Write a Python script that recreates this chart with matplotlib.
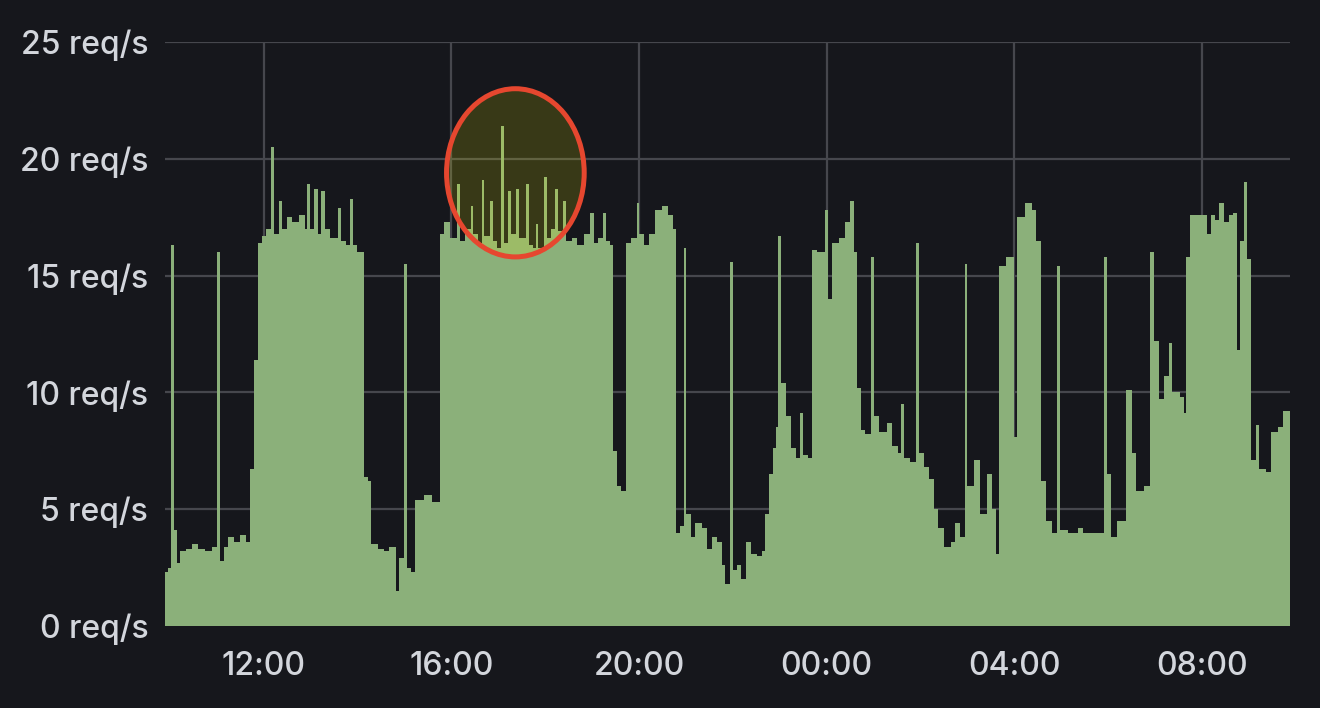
import matplotlib
matplotlib.use("Agg")
import matplotlib.pyplot as plt
import matplotlib.dates as mdates
from matplotlib.patches import Ellipse
import pandas as pd

# Request rate readings (step series)
times = [
    "09:54", "09:58", "10:02", "10:05", "10:09", "10:13", "10:21", "10:28", "10:36", "10:45",
    "10:54", "11:00", "11:04", "11:09", "11:14", "11:22", "11:30", "11:37", "11:43", "11:48",
    "11:53", "11:58", "12:03", "12:09", "12:13", "12:20", "12:23", "12:30", "12:37", "12:45",
    "12:53", "12:55", "12:59", "13:05", "13:09", "13:14", "13:18", "13:25", "13:35", "13:39",
    "13:45", "13:50", "13:54", "14:00", "14:08", "14:13", "14:18", "14:26", "14:34", "14:41",
    "14:49", "14:53", "14:59", "15:03", "15:09", "15:14", "15:25", "15:35", "15:45", "15:51",
    "15:58", "16:07", "16:11", "16:17", "16:25", "16:28", "16:34", "16:39", "16:42", "16:49",
    "16:53", "16:58", "17:03", "17:07", "17:13", "17:17", "17:23", "17:27", "17:35", "17:39",
    "17:44", "17:48", "17:51", "17:58", "18:02", "18:07", "18:13", "18:17", "18:23", "18:27",
    "18:34", "18:41", "18:50", "18:58", "19:02", "19:08", "19:14", "19:18", "19:23", "19:27",
    "19:32", "19:37", "19:44", "19:50", "19:57", "20:00", "20:07", "20:13", "20:21", "20:30",
    "20:37", "20:43", "20:48", "20:53", "20:57", "21:00", "21:06", "21:12", "21:20", "21:27",
    "21:34", "21:40", "21:46", "21:50", "21:57", "22:00", "22:06", "22:11", "22:17", "22:23",
    "22:31", "22:37", "22:41", "22:46", "22:51", "22:55", "22:58", "23:02", "23:08", "23:14",
    "23:21", "23:26", "23:30", "23:36", "23:41", "23:48", "23:58", "00:02", "00:07", "00:16",
    "00:23", "00:30", "00:35", "00:39", "00:44", "00:49", "00:57", "01:00", "01:07", "01:17",
    "01:23", "01:31", "01:35", "01:39", "01:46", "01:54", "01:58", "02:04", "02:11", "02:17",
    "02:23", "02:30", "02:39", "02:44", "02:50", "02:57", "03:00", "03:08", "03:16", "03:25",
    "03:32", "03:36", "03:41", "03:49", "04:00", "04:04", "04:13", "04:22", "04:28", "04:34",
    "04:40", "04:48", "04:55", "04:59", "05:09", "05:22", "05:28", "05:41", "05:55", "05:59",
    "06:04", "06:11", "06:23", "06:31", "06:36", "06:46", "06:54", "06:58", "07:05", "07:11",
    "07:18", "07:22", "07:32", "07:37", "07:40", "07:45", "07:53", "08:02", "08:06", "08:11",
    "08:16", "08:22", "08:28", "08:34", "08:40", "08:45", "08:48", "08:54", "08:58", "09:02",
    "09:09", "09:13", "09:22", "09:28", "09:37", "09:44", "09:52",
]
req_rate = [
    2.3, 2.5, 16.3, 4.1, 2.7, 3.2, 3.3, 3.5, 3.3, 3.2,
    3.4, 16.0, 2.8, 3.4, 3.8, 3.6, 3.9, 3.6, 6.7, 11.4,
    16.4, 16.7, 17.0, 20.5, 16.8, 18.2, 17.0, 17.5, 17.3, 17.6,
    17.0, 18.9, 17.0, 18.7, 16.8, 18.6, 17.0, 16.6, 17.9, 16.5,
    16.3, 18.3, 16.3, 16.0, 6.4, 6.2, 3.5, 3.3, 3.2, 3.4,
    1.5, 2.9, 15.5, 2.5, 2.3, 5.4, 5.6, 5.3, 16.8, 17.3,
    16.6, 18.9, 16.5, 17.0, 18.0, 16.8, 16.4, 19.1, 16.7, 18.2,
    16.5, 16.2, 21.4, 16.4, 18.6, 16.8, 18.7, 16.6, 18.9, 16.3,
    16.2, 17.2, 16.2, 19.2, 16.6, 17.0, 18.7, 16.9, 18.2, 16.5,
    16.6, 16.3, 16.8, 17.7, 16.4, 16.6, 17.7, 16.5, 16.3, 7.5,
    6.0, 5.8, 16.4, 16.6, 18.1, 16.8, 16.3, 16.8, 17.8, 18.0,
    17.6, 17.0, 4.0, 4.3, 16.2, 4.8, 3.8, 4.4, 4.2, 3.3,
    3.8, 3.6, 2.6, 1.8, 15.6, 2.4, 2.6, 2.0, 3.6, 3.1,
    3.0, 3.2, 4.8, 6.5, 7.6, 8.5, 16.7, 10.4, 9.0, 7.6,
    7.2, 9.1, 7.3, 7.2, 16.1, 16.0, 17.8, 14.0, 16.4, 16.6,
    17.3, 18.2, 16.0, 10.2, 8.4, 8.2, 15.8, 9.0, 8.3, 8.7,
    7.7, 7.4, 9.5, 7.2, 7.0, 16.4, 7.4, 6.8, 6.3, 5.0,
    4.2, 3.4, 3.6, 4.4, 3.8, 15.5, 6.0, 7.1, 4.8, 6.5,
    5.0, 3.1, 15.4, 15.8, 8.1, 17.5, 18.1, 17.8, 16.5, 6.2,
    4.5, 4.0, 15.4, 4.1, 4.0, 4.2, 4.0, 4.0, 15.8, 6.5,
    3.8, 4.5, 10.1, 7.4, 5.8, 6.0, 16.0, 12.2, 9.7, 10.7,
    12.1, 10.0, 9.8, 9.1, 15.8, 17.6, 17.6, 17.6, 16.8, 17.6,
    17.4, 18.1, 17.3, 17.6, 17.7, 11.8, 16.5, 19.0, 15.7, 7.1,
    8.6, 6.7, 6.6, 8.3, 8.5, 9.2, 9.2,
]
y_ticks = [0, 5, 10, 15, 20, 25]
tick_hours = [0, 4, 8, 12, 16, 20]

# turn clock strings into timestamps, rolling over midnight
stamps = []
day = pd.Timestamp("2024-01-01")
prev = None
for t in times:
    ts = pd.Timestamp(f"{day.date()} {t}")
    if prev is not None and ts < prev:
        day = day + pd.Timedelta(days=1)
        ts = pd.Timestamp(f"{day.date()} {t}")
    stamps.append(ts)
    prev = ts

bg = "#16171c"
green = "#8bb07a"
text_col = "#d3d6dc"
grid_col = "#46474d"

plt.rcParams['font.family'] = ['Inter', 'DejaVu Sans']

fig = plt.figure(figsize=(13.2, 7.08), dpi=100, facecolor=bg)
ax = fig.add_axes([0.125, 0.1158, 0.852, 0.8249])
ax.set_facecolor(bg)

ax.fill_between(stamps, req_rate, step="post", color=green, lw=0, zorder=2)

ax.set_ylim(0, 25)
ax.set_xlim(stamps[0], stamps[-1])
ax.set_yticks(y_ticks)
ax.set_yticklabels([f"{v} req/s" for v in y_ticks])
ax.xaxis.set_major_locator(mdates.HourLocator(byhour=tick_hours))
ax.xaxis.set_major_formatter(mdates.DateFormatter("%H:%M"))

ax.grid(True, color=grid_col, lw=1.6, zorder=0)
ax.set_axisbelow(True)
for s in ax.spines.values():
    s.set_visible(False)
ax.tick_params(axis="both", length=0, colors=text_col, labelsize=23)
ax.tick_params(axis="x", pad=18)
ax.tick_params(axis="y", pad=12)
for lbl in ax.get_xticklabels() + ax.get_yticklabels():
    lbl.set_fontweight("medium")

# red highlight ring around the afternoon peak
cx = mdates.date2num(pd.Timestamp("2024-01-01 17:22"))
ring = Ellipse((cx, 19.4), width=176 / 1440, height=7.2,
               facecolor=(1.0, 1.0, 0.0, 0.15), edgecolor="#e6472f", lw=3.6, zorder=4)
ax.add_patch(ring)

fig.savefig("out.png", dpi=100, facecolor=bg)
